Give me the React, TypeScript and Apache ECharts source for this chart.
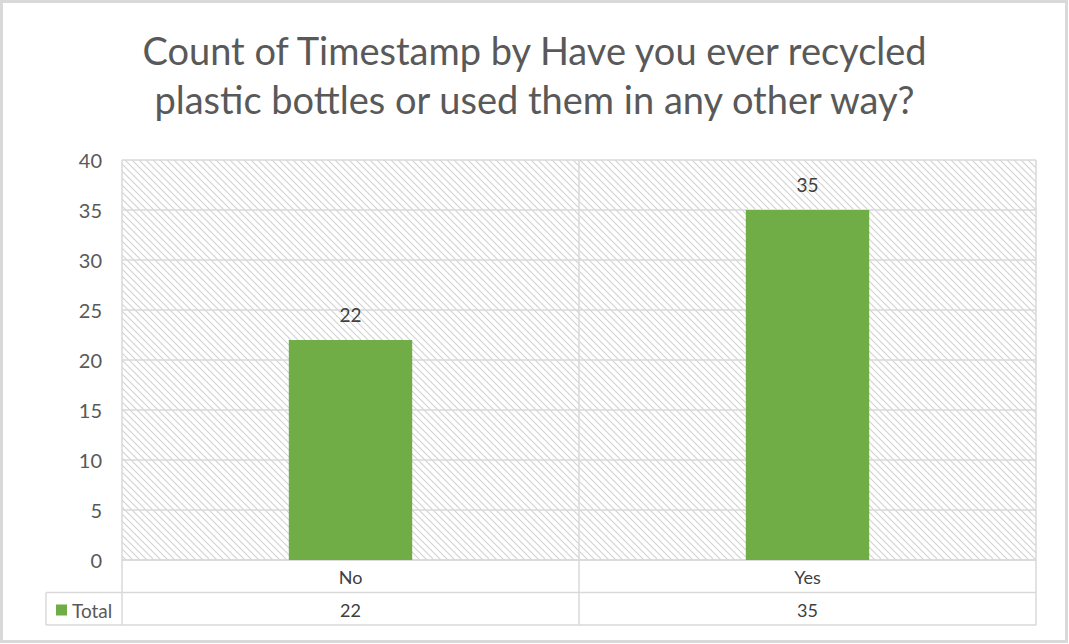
import { useEffect, useRef } from "react";
import * as echarts from "echarts";

const categories = ["No", "Yes"];
const totals = [22, 35];
const seriesName = "Total";
const yMin = 0;
const yMax = 40;
const yInterval = 5;
const titleText =
  "Count of Timestamp by Have you ever recycled\nplastic bottles or used them in any other way?";

const GRID_LEFT = 122;
const GRID_RIGHT = 1036;
const GRID_TOP = 160;
const GRID_BOTTOM = 560;
const ROW_H = 32.5;
const LINE = "#d9d9d9";
const FONT = "Lato, 'Open Sans', sans-serif";

// diagonal hatch tile for the plot area
function makeHatch(): string {
  const c = document.createElement("canvas");
  c.width = 7;
  c.height = 7;
  const ctx = c.getContext("2d")!;
  ctx.fillStyle = "#ffffff";
  ctx.fillRect(0, 0, 7, 7);
  ctx.strokeStyle = "#d2d2d2";
  ctx.lineWidth = 1.1;
  ctx.beginPath();
  ctx.moveTo(-1, -1);
  ctx.lineTo(8, 8);
  ctx.moveTo(-1, 6);
  ctx.lineTo(1, 8);
  ctx.moveTo(6, -1);
  ctx.lineTo(8, 1);
  ctx.stroke();
  return c.toDataURL();
}

export default function App() {
  const chartRef = useRef<HTMLDivElement>(null);

  useEffect(() => {
    if (!chartRef.current) return;
    document.body.style.margin = "0";
    const chart = echarts.init(chartRef.current, null, { renderer: "svg" });

    const tableBottom = GRID_BOTTOM + ROW_H * 2;

    chart.setOption({
      animation: false,
      backgroundColor: "#ffffff",
      title: {
        text: titleText,
        left: "center",
        top: 20,
        textStyle: {
          fontFamily: FONT,
          fontSize: 38,
          fontWeight: "normal",
          color: "#595959",
          lineHeight: 49,
        },
      },
      legend: {
        data: [seriesName],
        left: 51,
        top: GRID_BOTTOM + ROW_H + 3,
        icon: "rect",
        itemWidth: 11,
        itemHeight: 11,
        itemGap: 6,
        textStyle: { fontFamily: FONT, fontSize: 19, color: "#595959" },
      },
      tooltip: { show: false },
      grid: {
        left: GRID_LEFT,
        right: 1069 - GRID_RIGHT,
        top: GRID_TOP,
        bottom: 644 - GRID_BOTTOM,
        show: true,
        borderWidth: 0,
        backgroundColor: {
          image: makeHatch(),
          repeat: "repeat",
          imageWidth: 7,
          imageHeight: 7,
        },
      },
      xAxis: [
        {
          type: "category",
          data: categories,
          axisLine: { show: true, lineStyle: { color: LINE, width: 1.5 } },
          axisTick: {
            show: true,
            length: ROW_H * 2,
            lineStyle: { color: LINE, width: 1.5 },
          },
          splitLine: { show: true, lineStyle: { color: LINE, width: 1.5 } },
          axisLabel: {
            fontFamily: FONT,
            fontSize: 18,
            color: "#404040",
            margin: 8,
          },
        },
        {
          type: "category",
          position: "bottom",
          offset: ROW_H,
          data: totals.map(String),
          axisLine: { show: false },
          axisTick: { show: false },
          splitLine: { show: false },
          axisLabel: {
            fontFamily: FONT,
            fontSize: 18,
            color: "#404040",
            margin: 8,
          },
        },
      ],
      yAxis: {
        type: "value",
        min: yMin,
        max: yMax,
        interval: yInterval,
        axisLine: { show: false },
        axisTick: { show: false },
        splitLine: { show: true, lineStyle: { color: LINE, width: 1.5 } },
        axisLabel: {
          fontFamily: FONT,
          fontSize: 20,
          color: "#595959",
          margin: 20,
        },
      },
      series: [
        {
          name: seriesName,
          type: "bar",
          xAxisIndex: 0,
          data: totals,
          barWidth: "27%",
          itemStyle: { color: "#70ad47" },
          label: {
            show: true,
            position: "top",
            distance: 16,
            fontFamily: FONT,
            fontSize: 19,
            color: "#404040",
          },
        },
      ],
      graphic: [
        // outer chart border
        {
          type: "rect",
          shape: { x: 1.5, y: 1.5, width: 1065, height: 640 },
          style: { fill: "none", stroke: LINE, lineWidth: 3 },
          silent: true,
        },
        // data table rules
        {
          type: "line",
          shape: { x1: 46, y1: GRID_BOTTOM + ROW_H, x2: GRID_RIGHT, y2: GRID_BOTTOM + ROW_H },
          style: { stroke: LINE, lineWidth: 1.5 },
          silent: true,
        },
        {
          type: "line",
          shape: { x1: 46, y1: tableBottom, x2: GRID_RIGHT, y2: tableBottom },
          style: { stroke: LINE, lineWidth: 1.5 },
          silent: true,
        },
        {
          type: "line",
          shape: { x1: 46, y1: GRID_BOTTOM + ROW_H, x2: 46, y2: tableBottom },
          style: { stroke: LINE, lineWidth: 1.5 },
          silent: true,
        },
      ],
    });

    return () => {
      chart.dispose();
    };
  }, []);

  return <div ref={chartRef} style={{ width: 1069, height: 644 }} />;
}
